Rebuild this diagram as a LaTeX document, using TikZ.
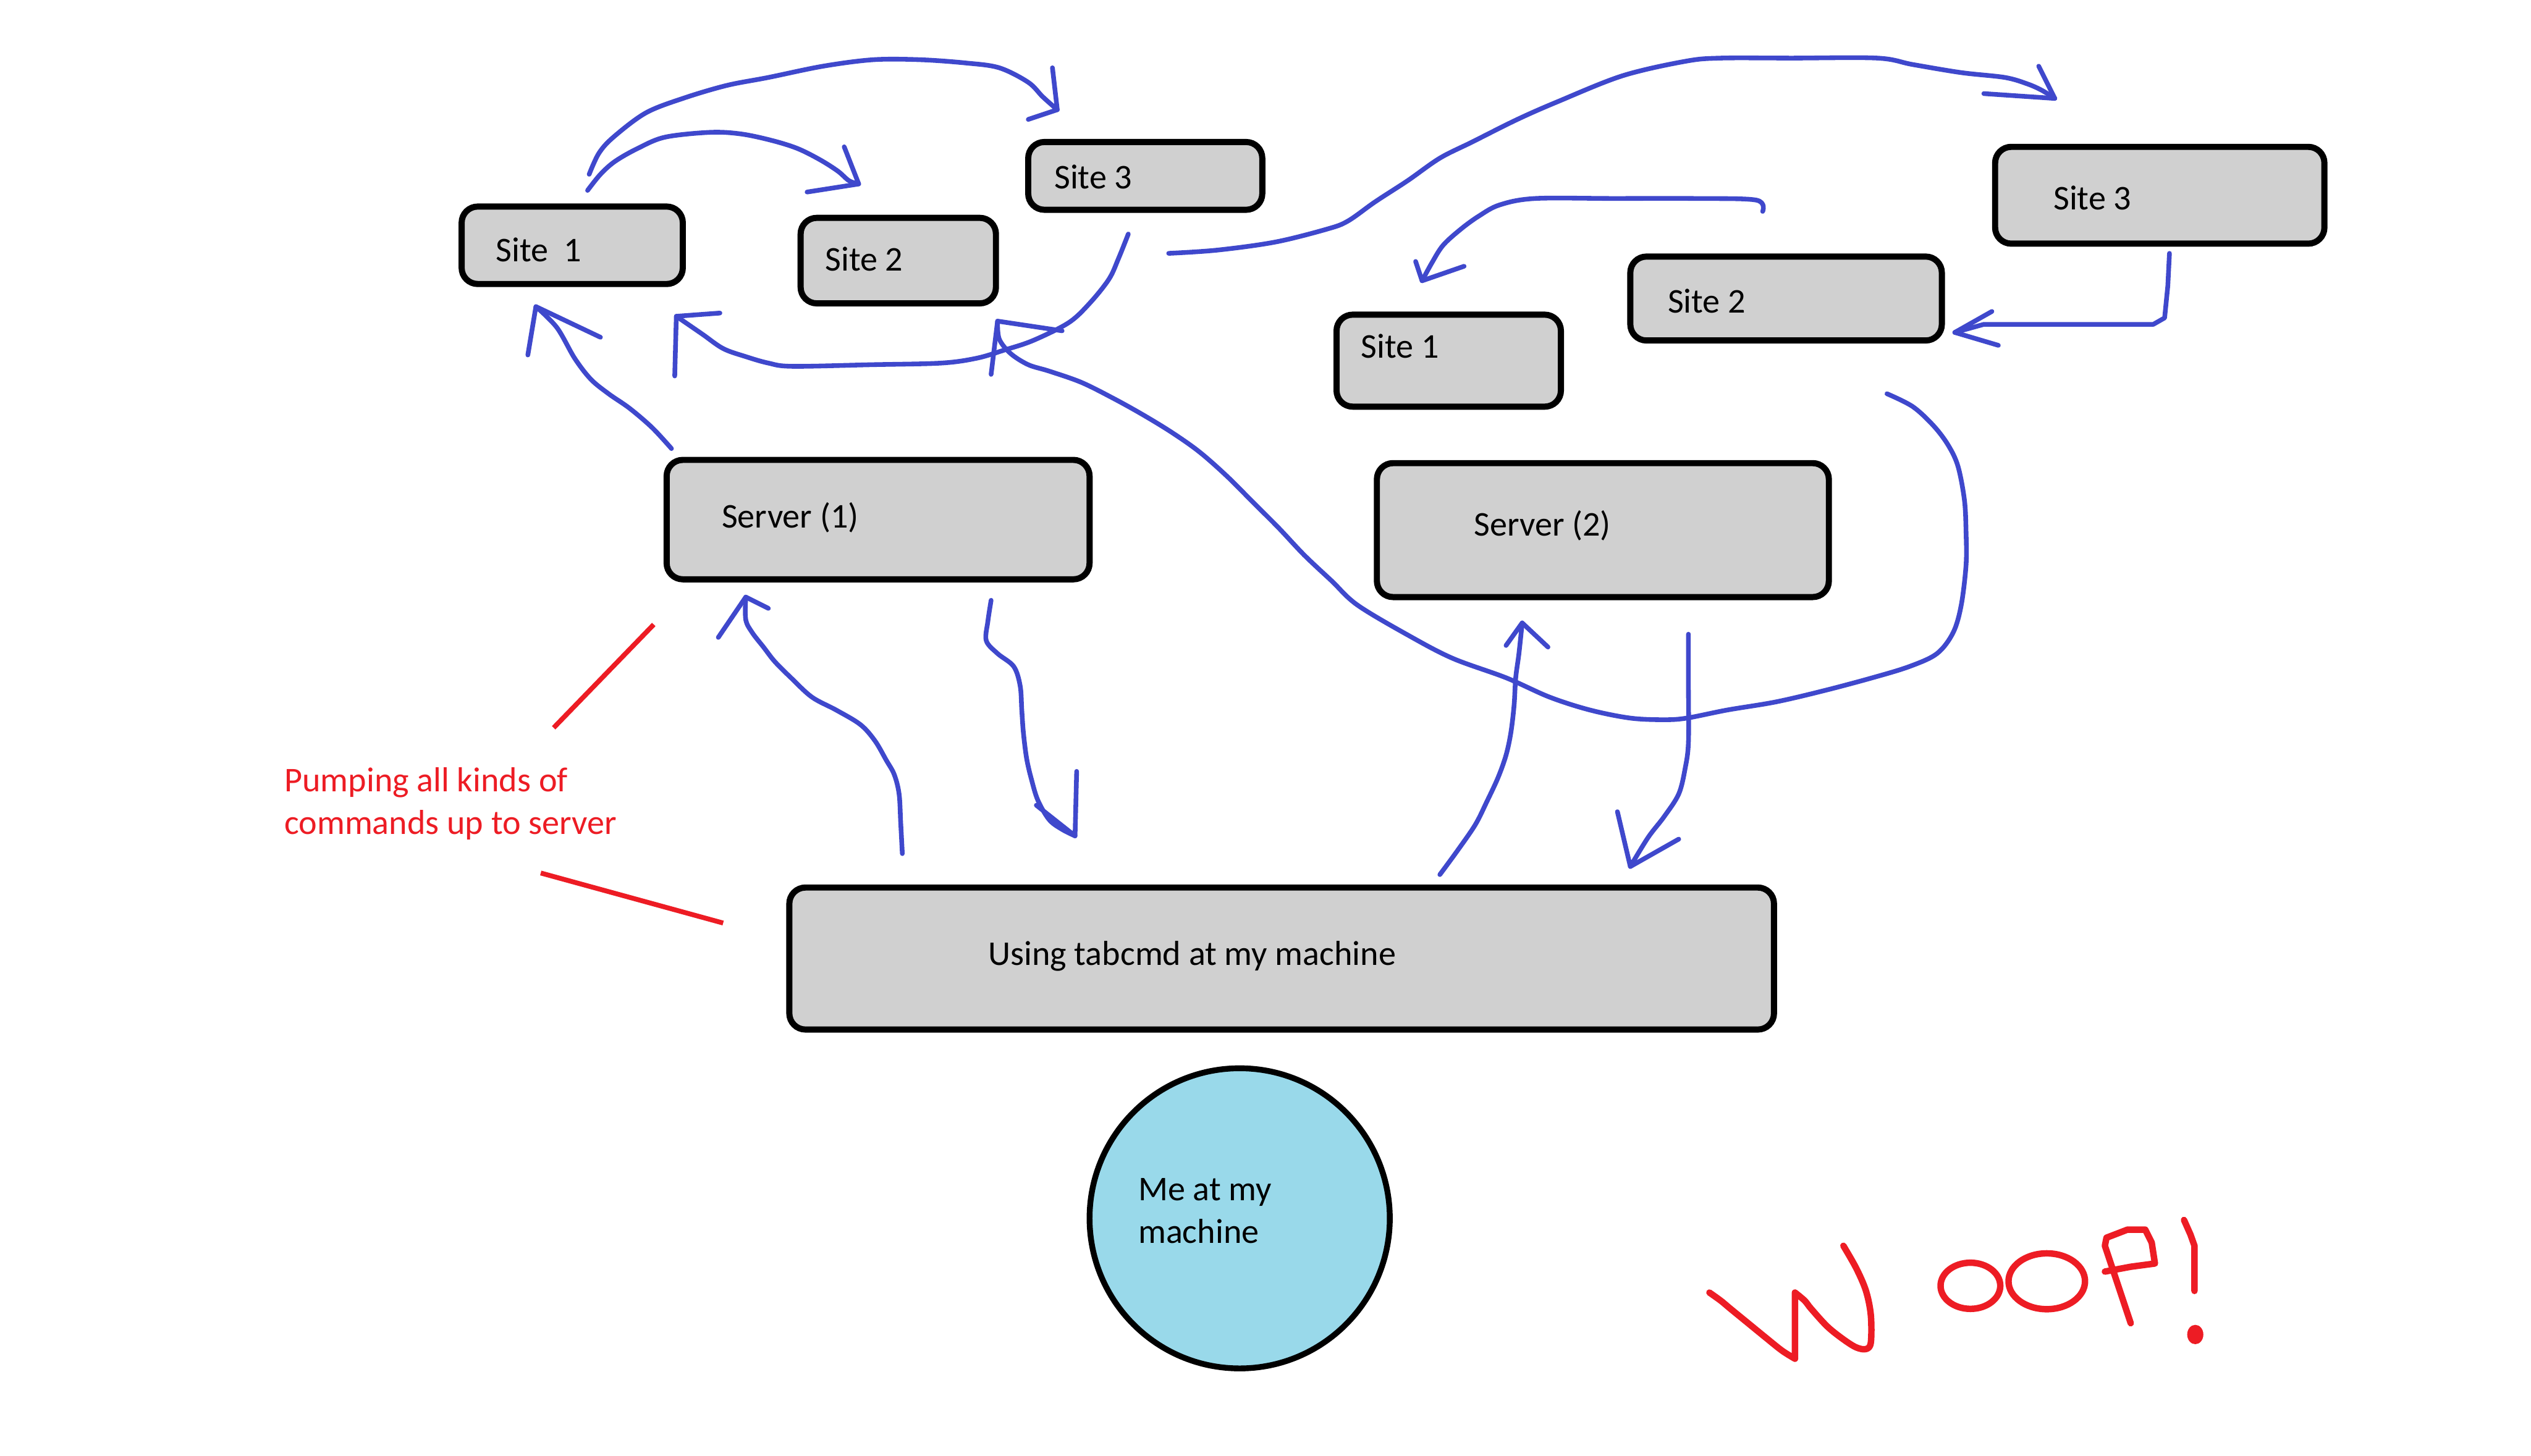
\documentclass[tikz,border=0pt]{standalone}
\usepackage{fontspec}
\setmainfont{Carlito}
\definecolor{pblue}{HTML}{3F48CC}
\definecolor{pred}{HTML}{ED1C24}
\definecolor{pgray}{HTML}{D0D0D0}
\definecolor{pcyan}{HTML}{99D9EA}
\begin{document}
\begin{tikzpicture}[x=1pt,y=-1pt,
 box/.style={draw=black, line width=3.8pt, fill=pgray, rounded corners=10pt, inner sep=0pt},
 lbl/.style={anchor=base west, inner sep=0pt, font=\fontsize{21.5}{26.5}\selectfont, text=black},
 redlbl/.style={lbl, text=pred, align=left},
 hand/.style={draw=pblue, line width=2.9pt, line cap=round, line join=round},
 ink/.style={draw=pred, line width=4pt, line cap=round, line join=round},
 curve/.style={smooth, tension=0.55}
]
\fill[white] (0,0) rectangle (1568,902);
\useasboundingbox (0,0) rectangle (1568,902);

% boxes
\node[box, minimum width=137pt, minimum height=48pt] (ls1) at (354.5,152) {};
\node[box, minimum width=121pt, minimum height=53pt] (ls2) at (556.5,161.5) {};
\node[box, minimum width=145pt, minimum height=42pt] (ls3) at (709.5,109) {};
\node[box, minimum width=139pt, minimum height=57pt] (rs1) at (897.5,223.5) {};
\node[box, minimum width=193pt, minimum height=52pt] (rs2) at (1106.5,185) {};
\node[box, minimum width=204pt, minimum height=60pt] (rs3) at (1338,121) {};
\node[box, minimum width=262pt, minimum height=74pt] (sv1) at (544,322) {};
\node[box, minimum width=280pt, minimum height=83pt] (sv2) at (993,328.5) {};
\node[box, minimum width=610pt, minimum height=88pt] (tab) at (794,594) {};
\node[circle, draw=black, line width=3.6pt, fill=pcyan, minimum size=186pt, inner sep=0pt] (me) at (768,755) {};

% texts
\node[lbl] (ls1t) at (307,162) {Site~~1};
\node[lbl] (ls2t) at (511,168) {Site 2};
\node[lbl] (ls3t) at (653,117) {Site 3};
\node[lbl] (rs1t) at (843,222) {Site 1};
\node[lbl] (rs2t) at (1033,194) {Site 2};
\node[lbl] (rs3t) at (1272,130) {Site 3};
\node[lbl] (sv1t) at (447,327) {Server (1)};
\node[lbl] (sv2t) at (913,332) {Server (2)};
\node[lbl] (tabt) at (612,598) {Using tabcmd at my machine};
\node[lbl, align=left] (met) at (705,770.5) {Me at my\\machine};
\node[redlbl] (note) at (176,517) {Pumping all kinds of\\commands up to server};

% endpoints
\coordinate (aS) at (365,108); \coordinate (aT) at (655,68);
\coordinate (bS) at (364,118); \coordinate (bT) at (532,114);
\coordinate (cS) at (699,145); \coordinate (cT) at (419,196);
\coordinate (dS) at (416,278); \coordinate (dT) at (332,190);
\coordinate (eS) at (1169,244); \coordinate (eT) at (618,199);
\coordinate (fS) at (559,529); \coordinate (fT) at (462,370);
\coordinate (gS) at (614,372); \coordinate (gT) at (666,518);
\coordinate (hS) at (892,542); \coordinate (hT) at (943,386);
\coordinate (iS) at (1046,393); \coordinate (iT) at (1010,537);
\coordinate (jS) at (724,157); \coordinate (jT) at (1273,61);
\coordinate (kS) at (1092,131); \coordinate (kT) at (881,174);
\coordinate (lS) at (1344,157); \coordinate (lT) at (1211,206);

% A: site1 -> site3 (left)
\draw[hand] plot[curve] coordinates {(aS) (371,95) (380,85) (400,70) (423,61) (450,53) (476,48) (510,41) (541,37) (570,37) (598,39) (619,42) (637,51) (646,60) (aT)};
\draw[hand] (652,42) -- (aT) -- (637,74);
% B: site1 -> site2 (left)
\draw[hand] plot[curve] coordinates {(bS) (372,108) (381,100) (395,92) (412,85) (440,82) (459,83) (478,87) (494,92) (508,99) (519,106) (526,112) (bT)};
\draw[hand] (523,91) -- (bT) -- (500,119);
% C: site3 -> site1 (left)
\draw[hand] plot[curve] coordinates {(cS) (693,160) (687,173) (675,188) (662,200) (640,211) (622,217) (605,222) (583,225) (540,226) (491,227) (476,225) (462,221) (448,216) (435,207) (cT)};
\draw[hand] (418,233) -- (cT) -- (446,194);
% D: server1 -> site1
\draw[hand] plot[curve] coordinates {(dS) (404,265) (390,253) (377,244) (366,235) (356,222) (345,203) (dT)};
\draw[hand] (327,220) -- (dT) -- (372,209);
% E: big loop -> site3 (left)
\draw[hand] plot[curve] coordinates {(eS) (1185,252) (1198,264) (1207,276) (1213,289) (1217,310) (1218,330) (1218,350) (1215,375) (1210,392) (1200,405) (1183,413) (1160,420) (1130,428) (1100,435) (1070,440) (1045,445) (1031,446) (1010,445) (985,440) (960,432) (933,420) (900,408) (873,394) (841,375) (825,360) (808,344) (792,327) (776,311) (760,295) (743,280) (726,268) (708,257) (690,247) (670,237) (650,230) (637,226) (626,219) (619,210) (eT)};
\draw[hand] (614,232) -- (eT) -- (658,205);
% F: tab -> server1
\draw[hand] plot[curve] coordinates {(fS) (558,510) (557,492) (554,480) (549,471) (542,459) (533,449) (518,440) (503,432) (490,420) (480,410) (473,401) (466,392) (462,384) (fT)};
\draw[hand] (445,395) -- (fT) -- (476,377);
% G: server1 -> tab
\draw[hand] plot[curve] coordinates {(gS) (612,385) (611,397) (618,405) (628,413) (632,425) (633,440) (634,454) (636,470) (639,483) (643,496) (650,508) (658,514) (gT)};
\draw[hand] (667,478) -- (gT) -- (642,499);
% H: tab -> server2
\draw[hand] plot[curve] coordinates {(hS) (903,527) (914,511) (921,497) (928,482) (933,468) (936,454) (938,437) (939,420) (941,405) (hT)};
\draw[hand] (933,400) -- (hT) -- (959,401);
% I: server2 -> tab
\draw[hand] plot[curve] coordinates {(iS) (1046,425) (1046,460) (1044,476) (1040,492) (1031,506) (1021,519) (iT)};
\draw[hand] (1002,503) -- (iT) -- (1040,520);
% J: site3 (left) -> site3 (right)
\draw[hand] plot[curve] coordinates {(jS) (754,155) (790,150) (822,142) (835,137) (852,125) (872,112) (892,98) (912,88) (940,74) (965,63) (1005,47) (1044,38) (1066,36) (1110,36) (1163,36) (1185,40) (1215,45) (1242,48) (1256,52) (1265,56) (jT)};
\draw[hand] (1263,41) -- (jT) -- (1229,58);
% K: site2 (right) -> site1 (right)
\draw[hand] plot[curve] coordinates {(kS) (1088,124) (1050,123) (1000,123) (951,123) (929,127) (916,134) (905,142) (894,152) (887,163) (kT)};
\draw[hand] (877,162) -- (kT) -- (907,165);
% L: site3 (right) -> site2 (right)
\draw[hand] (lS) -- (1343,177) -- (1341,197) -- (1334,201) -- (1300,201) -- (1260,201) -- (1229,201) -- (lT);
\draw[hand] (1234,193) -- (lT) -- (1238,214);

% red pointer lines
\coordinate (r1a) at (343,451); \coordinate (r1b) at (405,387);
\coordinate (r2a) at (335,541); \coordinate (r2b) at (448,572);
\draw[ink, line width=3pt, line cap=butt] (r1a) -- (r1b);
\draw[ink, line width=3pt, line cap=butt] (r2a) -- (r2b);

% WOOP!
\draw[ink] plot[curve] coordinates {(1059,801) (1066,806) (1072,811) (1083,820) (1094,829) (1104,837) (1112,842)} -- (1112,801) -- plot[curve] coordinates {(1112,801) (1118,806) (1122,811) (1132,822) (1142,830) (1150,835) (1156,836) (1159,832) (1159,815) (1156,800) (1150,786) (1142,772)};
\draw[ink] (1220.7,796.8) ellipse [x radius=18.5, y radius=14.3];
\draw[ink] (1268,794) ellipse [x radius=23.7, y radius=17.3];
\draw[ink] (1320,820) -- (1304,772) -- (1305,767) -- (1318,762) -- (1329,762) -- (1333,770) -- (1335,783) -- (1320,785) -- (1304,788);
\draw[ink] (1353,756) -- (1357,765) -- (1359.5,772) -- (1359.5,800);
\fill[pred] (1360,827) ellipse [x radius=5, y radius=6];
\end{tikzpicture}
\end{document}
